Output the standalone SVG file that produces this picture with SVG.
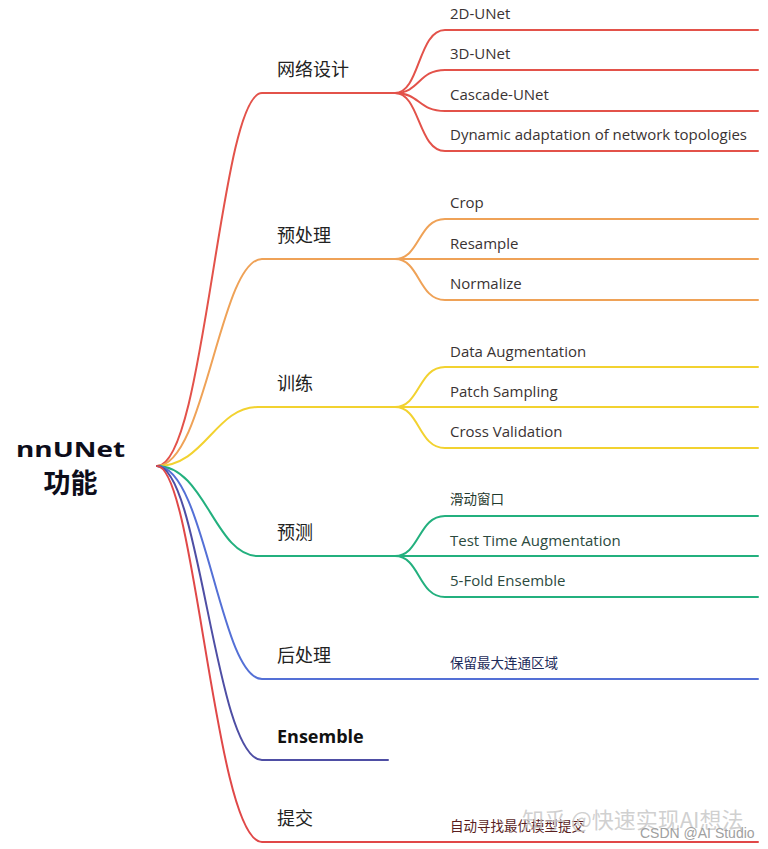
<svg xmlns="http://www.w3.org/2000/svg" width="768" height="849" viewBox="0 0 768 849">
<style>
.c{fill:none;stroke-width:2;stroke-linecap:round}
.l1{font-family:"Noto Sans CJK SC","Open Sans",sans-serif;font-size:18px;fill:#222}
.l2{font-family:"Open Sans","Noto Sans CJK SC",sans-serif;font-size:15px;fill:#3a3333}
.cjk2{font-family:"Noto Sans CJK SC",sans-serif;font-size:13.5px}
.root{font-family:"Open Sans","Noto Sans CJK SC",sans-serif;font-weight:bold;fill:#0d0d1a;text-anchor:middle}
.wm{font-family:"Noto Sans CJK SC","Liberation Sans",sans-serif}
</style>
<rect width="768" height="849" fill="#ffffff"/>
<g id="connectors">
  <path class="c" stroke="#e3524a" d="M157,466 C205,466 220,93 262,93 L395,93"/>
  <path class="c" stroke="#efa257" d="M157,466 C205,466 220,259 262,259 L395,259"/>
  <path class="c" stroke="#f2d230" d="M157,466 C205,466 215,407 258,407 L395,407"/>
  <path class="c" stroke="#23b07e" d="M157,466 C205,466 215,556 258,556 L395,556"/>
  <path class="c" stroke="#5470d6" d="M157,466 C205,466 220,679 262,679 L758,679"/>
  <path class="c" stroke="#4e4ea4" d="M157,466 C200,466 215,760 262,760 L388,760"/>
  <path class="c" stroke="#e04848" d="M157,466 C195,466 215,842 262,842 L758,842"/>
  <path class="c" stroke="#e3524a" d="M395,93 C420,93 418,30 445,30 L758,30"/>
  <path class="c" stroke="#e3524a" d="M395,93 C420,93 418,70 445,70 L758,70"/>
  <path class="c" stroke="#e3524a" d="M395,93 C420,93 418,111 445,111 L758,111"/>
  <path class="c" stroke="#e3524a" d="M395,93 C420,93 418,151 445,151 L758,151"/>
  <path class="c" stroke="#efa257" d="M395,259 C420,259 418,219 445,219 L758,219"/>
  <path class="c" stroke="#efa257" d="M395,259 L758,259"/>
  <path class="c" stroke="#efa257" d="M395,259 C420,259 418,300 445,300 L758,300"/>
  <path class="c" stroke="#f2d230" d="M395,407 C420,407 418,367 445,367 L758,367"/>
  <path class="c" stroke="#f2d230" d="M395,407 L758,407"/>
  <path class="c" stroke="#f2d230" d="M395,407 C420,407 418,448 445,448 L758,448"/>
  <path class="c" stroke="#23b07e" d="M395,556 C420,556 418,516 445,516 L758,516"/>
  <path class="c" stroke="#23b07e" d="M395,556 L758,556"/>
  <path class="c" stroke="#23b07e" d="M395,556 C420,556 418,597 445,597 L758,597"/>
</g>
<g id="root">
  <text class="root" x="70.5" y="457" font-size="22" textLength="109" lengthAdjust="spacingAndGlyphs">nnUNet</text>
  <text class="root" x="70.5" y="493" font-size="27" style="font-family:'Noto Sans CJK SC',sans-serif">功能</text>
</g>
<g id="n-network"><text class="l1" x="277" y="76">网络设计</text></g>
<g id="n-2d"><text class="l2" x="450" y="19">2D-UNet</text></g>
<g id="n-3d"><text class="l2" x="450" y="59">3D-UNet</text></g>
<g id="n-cascade"><text class="l2" x="450" y="100">Cascade-UNet</text></g>
<g id="n-dynamic"><text class="l2" x="450" y="140">Dynamic adaptation of network topologies</text></g>
<g id="n-pre"><text class="l1" x="277" y="242">预处理</text></g>
<g id="n-crop"><text class="l2" x="450" y="208" fill="#3d3629">Crop</text></g>
<g id="n-resample"><text class="l2" x="450" y="249" fill="#3d3629">Resample</text></g>
<g id="n-normalize"><text class="l2" x="450" y="289" fill="#3d3629">Normalize</text></g>
<g id="n-train"><text class="l1" x="277" y="390">训练</text></g>
<g id="n-aug"><text class="l2" x="450" y="357">Data Augmentation</text></g>
<g id="n-patch"><text class="l2" x="450" y="397">Patch Sampling</text></g>
<g id="n-cv"><text class="l2" x="450" y="437">Cross Validation</text></g>
<g id="n-predict"><text class="l1" x="277" y="539">预测</text></g>
<g id="n-sliding"><text class="l2 cjk2" x="450" y="504" style="fill:#1f3a2e">滑动窗口</text></g>
<g id="n-tta"><text class="l2" x="450" y="546" style="fill:#2c4a3e">Test Time Augmentation</text></g>
<g id="n-5fold"><text class="l2" x="450" y="586" style="fill:#2c4a3e">5-Fold Ensemble</text></g>
<g id="n-post"><text class="l1" x="277" y="662">后处理</text></g>
<g id="n-largest"><text class="l2 cjk2" x="450" y="668" style="fill:#1e2c5a">保留最大连通区域</text></g>
<g id="n-ensemble"><text x="277" y="743" style="font-family:'Open Sans',sans-serif;font-weight:bold;font-size:18px;fill:#111">Ensemble</text></g>
<g id="n-submit"><text class="l1" x="277" y="825">提交</text></g>
<g id="n-auto"><text class="l2 cjk2" x="450" y="831" style="fill:#5a1e1e">自动寻找最优模型提交</text></g>
<g id="watermark">
  <text class="wm" x="522" y="828" font-size="22" fill="#c8c8c8" fill-opacity="0.85">知乎 @快速实现AI想法</text>
  <text x="640" y="838" font-size="14" fill="#a0a0a0" style="font-family:'Liberation Sans',Arial,sans-serif">CSDN @AI Studio</text>
</g>
</svg>
